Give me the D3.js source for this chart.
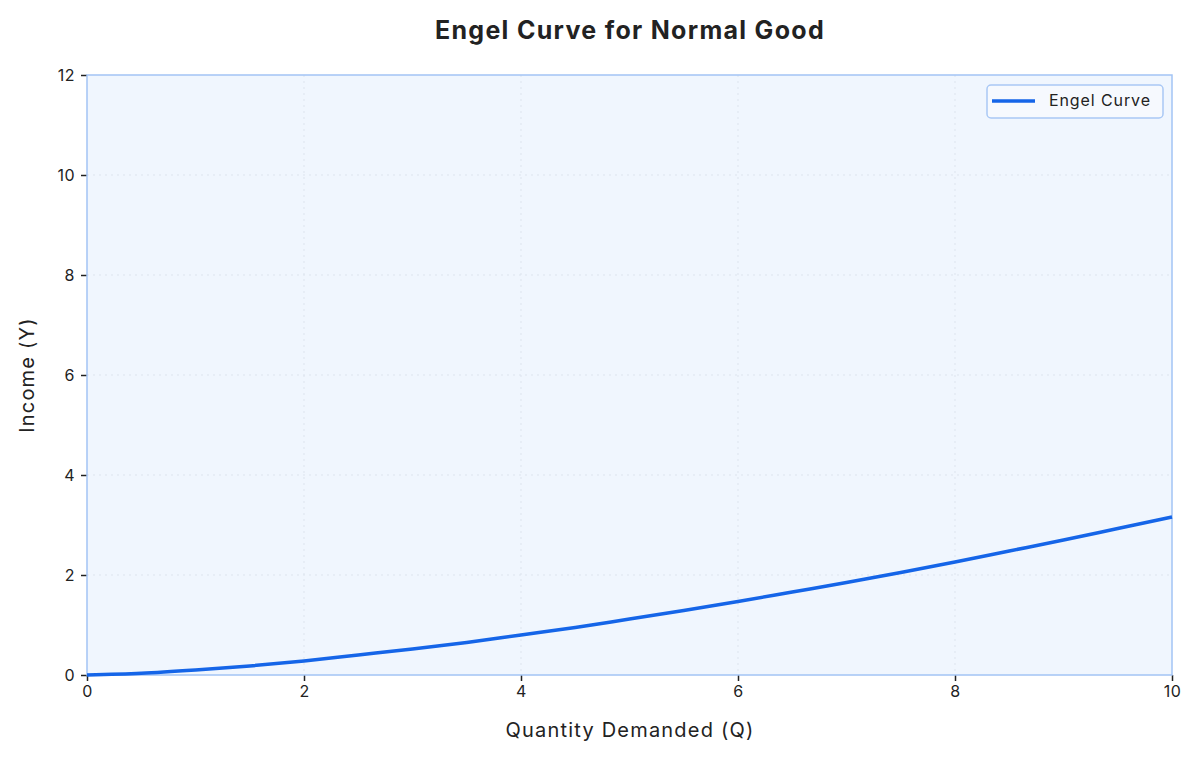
<!DOCTYPE html>
<html><head><meta charset="utf-8">
<script src="https://cdn.jsdelivr.net/npm/d3@7"></script>
<style>body{margin:0;background:#fff;font-family:Inter,"Noto Sans",sans-serif;}</style>
</head><body><svg id="chart" width="1200" height="760"></svg>
<script>
const quantity = [0,0.5,1,1.5,2,2.5,3,3.5,4,4.5,5,5.5,6,6.5,7,7.5,8,8.5,9,9.5,10];
const income = [0,0.035,0.1,0.18,0.28,0.4,0.52,0.65,0.8,0.95,1.12,1.29,1.47,1.66,1.85,2.05,2.26,2.48,2.7,2.93,3.16];
const xTicks = [0,2,4,6,8,10];
const yTicks = [0,2,4,6,8,10,12];
const seriesName = "Engel Curve";
const title = "Engel Curve for Normal Good";
const xLabel = "Quantity Demanded (Q)";
const yLabel = "Income (Y)";

const svg = d3.select("#chart");
const m = {l:87, r:1172, t:75, b:675};
const x = d3.scaleLinear().domain([0,10]).range([m.l, m.r]);
const y = d3.scaleLinear().domain([0,12]).range([m.b, m.t]);

svg.append("rect").attr("x",m.l).attr("y",m.t).attr("width",m.r-m.l).attr("height",m.b-m.t)
  .attr("fill","#f0f6fe");

// grid
svg.append("g").selectAll("line").data(xTicks.slice(1,-1)).join("line")
  .attr("x1",d=>x(d)).attr("x2",d=>x(d)).attr("y1",m.t).attr("y2",m.b)
  .attr("stroke","#dde4ee").attr("stroke-width",1).attr("stroke-dasharray","2,4");
svg.append("g").selectAll("line").data(yTicks.slice(1,-1)).join("line")
  .attr("y1",d=>y(d)).attr("y2",d=>y(d)).attr("x1",m.l).attr("x2",m.r)
  .attr("stroke","#dde4ee").attr("stroke-width",1).attr("stroke-dasharray","2,4");

// axes
const xa = svg.append("g").attr("transform",`translate(0,${m.b})`)
  .call(d3.axisBottom(x).tickValues(xTicks).tickFormat(d3.format("d")).tickSize(6).tickPadding(5));
const ya = svg.append("g").attr("transform",`translate(${m.l},0)`)
  .call(d3.axisLeft(y).tickValues(yTicks).tickFormat(d3.format("d")).tickSize(6).tickPadding(6));
[xa,ya].forEach(a=>{
  a.select(".domain").remove();
  a.selectAll(".tick line").attr("stroke","#222").attr("stroke-width",1.5);
  a.selectAll(".tick text").attr("fill","#222").style("font-size","16px")
    .style("font-family","Inter, sans-serif").style("letter-spacing","0.5px");
});

// border
svg.append("rect").attr("x",m.l).attr("y",m.t).attr("width",m.r-m.l).attr("height",m.b-m.t)
  .attr("fill","none").attr("stroke","#a3c4f5").attr("stroke-width",1.5);

// line
const pts = quantity.map((q,i)=>[q,income[i]]);
svg.append("path").datum(pts)
  .attr("d", d3.line().x(d=>x(d[0])).y(d=>y(d[1])).curve(d3.curveMonotoneX))
  .attr("fill","none").attr("stroke","#1565e8").attr("stroke-width",3.5);

// legend
const lg = svg.append("g");
lg.append("rect").attr("x",987).attr("y",85).attr("width",176).attr("height",33).attr("rx",4)
  .attr("fill","#f6f9fe").attr("stroke","#a9c8f5").attr("stroke-width",1.5);
lg.append("line").attr("x1",992).attr("x2",1035).attr("y1",101).attr("y2",101)
  .attr("stroke","#1565e8").attr("stroke-width",3.5);
lg.append("text").attr("x",1049).attr("y",106).text(seriesName)
  .attr("fill","#222").style("font-size","16px").style("letter-spacing","0.9px");

// titles
svg.append("text").attr("x",630).attr("y",39).attr("text-anchor","middle").text(title)
  .attr("fill","#222").style("font-size","25px").style("font-weight","700").style("letter-spacing","1.3px");
svg.append("text").attr("x",630).attr("y",737).attr("text-anchor","middle").text(xLabel)
  .attr("fill","#222").style("font-size","20px").style("letter-spacing","1.2px");
svg.append("text").attr("transform","translate(34,375) rotate(-90)").attr("text-anchor","middle").text(yLabel)
  .attr("fill","#222").style("font-size","20px").style("letter-spacing","1.2px");
</script></body></html>
